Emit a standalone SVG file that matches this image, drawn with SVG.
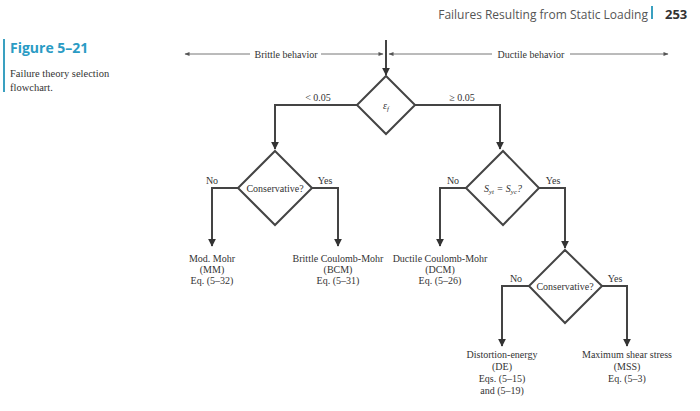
<svg xmlns="http://www.w3.org/2000/svg" width="700" height="411" viewBox="0 0 700 411">
<style>
.t{font-family:"Liberation Serif",serif;font-size:10px;fill:#333;text-anchor:middle}
.d{fill:none;stroke:#444;stroke-width:2}
.c{fill:none;stroke:#444;stroke-width:2}
.g{fill:none;stroke:#777;stroke-width:1}
</style>
<defs>
<marker id="a" viewBox="0 0 10 10" refX="9" refY="5" markerWidth="4" markerHeight="5" orient="auto"><path d="M0,0L10,5L0,10z" fill="#333"/></marker>
<marker id="s" viewBox="0 0 10 10" refX="9" refY="5" markerWidth="6" markerHeight="5" orient="auto" markerUnits="userSpaceOnUse"><path d="M0,1L10,5L0,9z" fill="#555"/></marker>
</defs>
<rect width="700" height="411" fill="#fff"/>
<text x="648" y="19" font-family="Open Sans,sans-serif" font-size="12" fill="#555" text-anchor="end">Failures Resulting from Static Loading</text>
<rect x="651" y="6" width="2" height="13" fill="#3aa0c0"/>
<text x="665" y="19" font-family="Open Sans,sans-serif" font-size="13" font-weight="bold" fill="#333">253</text>
<rect x="3" y="39" width="2" height="53" fill="#3aa0c0"/>
<text x="10" y="53" font-family="Open Sans,sans-serif" font-size="14" font-weight="bold" fill="#2a9bc4">Figure 5–21</text>
<text x="10" y="77" font-family="Liberation Serif,serif" font-size="10.5" fill="#333">Failure theory selection</text>
<text x="10" y="91" font-family="Liberation Serif,serif" font-size="10.5" fill="#333">flowchart.</text>

<g id="connectors">
<line class="g" x1="250" y1="54" x2="185" y2="54" marker-end="url(#s)"/>
<line class="g" x1="321" y1="54" x2="383" y2="54" marker-end="url(#s)"/>
<line class="g" x1="492" y1="54" x2="389" y2="54" marker-end="url(#s)"/>
<line class="g" x1="570" y1="54" x2="668" y2="54" marker-end="url(#s)"/>
<line class="c" x1="386" y1="40" x2="386" y2="75" marker-end="url(#a)"/>
<polyline class="c" points="357,105 275,105 275,149" marker-end="url(#a)"/>
<polyline class="c" points="415,105 500,105 500,149" marker-end="url(#a)"/>
<polyline class="c" points="238,188 212,188 212,246" marker-end="url(#a)"/>
<polyline class="c" points="312,188 338,188 338,246" marker-end="url(#a)"/>
<polyline class="c" points="466,188 440,188 440,246" marker-end="url(#a)"/>
<polyline class="c" points="539,188 565,188 565,248" marker-end="url(#a)"/>
<polyline class="c" points="529,286 502,286 502,346" marker-end="url(#a)"/>
<polyline class="c" points="602,286 627,286 627,346" marker-end="url(#a)"/>
</g>
<text class="t" x="286" y="58">Brittle behavior</text>
<text class="t" x="531" y="58">Ductile behavior</text>
<text class="t" x="318" y="101">&lt; 0.05</text>
<text class="t" x="462" y="101">≥ 0.05</text>
<text class="t" x="212" y="184" font-size="11">No</text>
<text class="t" x="325" y="184" font-size="11">Yes</text>
<text class="t" x="453" y="184" font-size="11">No</text>
<text class="t" x="553" y="184" font-size="11">Yes</text>
<text class="t" x="516" y="282" font-size="11">No</text>
<text class="t" x="615" y="282" font-size="11">Yes</text>

<g id="n1"><polygon class="d" points="386,76 415,105 386,134 357,105"/><text class="t" x="386" y="109" font-style="italic" font-size="9">ε<tspan font-size="7" dy="2">f</tspan></text></g>
<g id="n2"><polygon class="d" points="275,151 312,188 275,225 238,188"/><text class="t" x="275" y="192" font-size="9.5">Conservative?</text></g>
<g id="n3"><polygon class="d" points="503,151 539,188 503,225 466,188"/><text class="t" x="503" y="192" font-size="9.5" font-style="italic">S<tspan font-size="7" dy="2">yt</tspan><tspan dy="-2"> = S</tspan><tspan font-size="7" dy="2">yc</tspan><tspan dy="-2">?</tspan></text></g>
<g id="n4"><polygon class="d" points="565,250 602,286 565,323 529,286"/><text class="t" x="565" y="290" font-size="9.5">Conservative?</text></g>
<g id="mm"><text class="t" x="212" y="262">Mod. Mohr</text><text class="t" x="212" y="273">(MM)</text><text class="t" x="212" y="284">Eq. (5–32)</text></g>
<g id="bcm"><text class="t" x="338" y="262">Brittle Coulomb-Mohr</text><text class="t" x="338" y="273">(BCM)</text><text class="t" x="338" y="284">Eq. (5–31)</text></g>
<g id="dcm"><text class="t" x="440" y="262">Ductile Coulomb-Mohr</text><text class="t" x="440" y="273">(DCM)</text><text class="t" x="440" y="284">Eq. (5–26)</text></g>
<g id="de"><text class="t" x="502" y="358">Distortion-energy</text><text class="t" x="502" y="370">(DE)</text><text class="t" x="502" y="382">Eqs. (5–15)</text><text class="t" x="502" y="394">and (5–19)</text></g>
<g id="mss"><text class="t" x="627" y="358">Maximum shear stress</text><text class="t" x="627" y="370">(MSS)</text><text class="t" x="627" y="382">Eq. (5–3)</text></g>
</svg>
